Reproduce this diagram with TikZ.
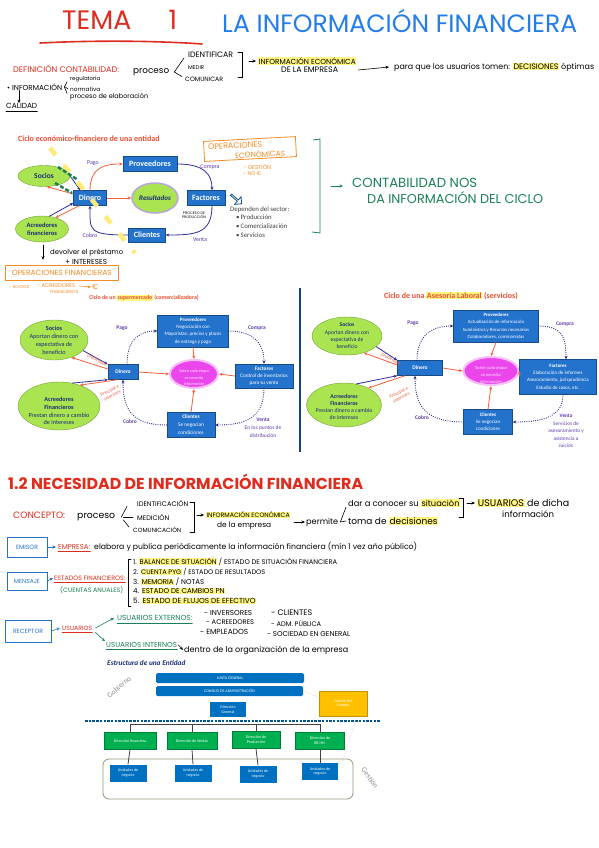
\documentclass[tikz,border=0pt]{standalone}
\usepackage{fontspec}
\setmainfont{Carlito}
\newfontfamily\hand{Poppins}
\usepackage{graphicx}
\usetikzlibrary{arrows.meta,shapes.geometric,shapes.arrows,shadows}

\definecolor{penred}{RGB}{222,45,30}
\definecolor{penblue}{RGB}{35,125,235}
\definecolor{pengreen}{RGB}{25,130,85}
\definecolor{penorange}{RGB}{245,140,35}
\definecolor{hlyellow}{RGB}{255,246,130}
\definecolor{titred}{RGB}{238,75,45}
\definecolor{boxblue}{RGB}{35,115,205}
\definecolor{ellgreen}{RGB}{170,228,80}
\definecolor{navy}{RGB}{25,45,120}
\definecolor{lblpurple}{RGB}{95,60,170}
\definecolor{arrred}{RGB}{240,95,60}
\definecolor{arrblue}{RGB}{45,45,155}
\definecolor{infomag}{RGB}{235,70,235}
\definecolor{orgblue}{RGB}{0,112,192}
\definecolor{orggreen}{RGB}{0,176,80}
\definecolor{orgyellow}{RGB}{255,192,0}
\definecolor{gestgray}{RGB}{150,150,120}

\newcommand{\hw}[2]{\resizebox{#1pt}{!}{\hand #2}}
\newcommand{\hlt}[1]{{\setlength{\fboxsep}{0.7pt}\colorbox{hlyellow}{#1}}}
\newcommand{\fsz}[2]{\fontsize{#1}{#2}\selectfont}

\tikzset{
  hnote/.style={inner sep=0pt, anchor=west},
  penline/.style={line width=0.6pt, line cap=round},
  cycbox/.style={draw=boxblue!65!black, fill=boxblue, text=white, inner sep=0pt, align=center,
    drop shadow={opacity=0.35, shadow xshift=0.8pt, shadow yshift=-0.8pt}},
  cycell/.style={ellipse, draw=ellgreen!70!black, fill=ellgreen, inner sep=0pt},
  infoell/.style={ellipse, draw=infomag!35, line width=2pt, fill=infomag, inner sep=0pt},
  celltext/.style={text=navy, align=center, inner sep=0pt},
  cyclbl/.style={text=lblpurple, inner sep=0pt, align=center},
  flowin/.style={arrblue, thick, ->},
  flowout/.style={arrred, thick, ->},
  cycdot/.style={arrblue!85!black, line width=1.2pt, line cap=round, dash pattern=on 0pt off 2.2pt, ->},
  penbox/.style={draw=boxblue, thick, text=boxblue, inner sep=0pt},
  orgbox/.style={fill=orgblue, text=white, inner sep=0pt, align=center, font=\fsz{4}{4.8}},
  orggbox/.style={fill=orggreen, draw=orggreen!70!black, text=white, inner sep=0pt, align=center, font=\fsz{4}{4.8}, minimum height=17},
  treeline/.style={black!75, thick},
  orgdot/.style={arrred!60, densely dotted, thin},
}

\begin{document}
\begin{tikzpicture}[x=1pt, y=-1pt, >={Stealth[length=3.5pt, width=3pt]}]
  \fill[white] (0,0) rectangle (599,848);
  \useasboundingbox (0,0) rectangle (599,848);

  %--- Title ---
  \node[hnote, text=penred] (tema) at (62,20) {\hw{115}{TEMA\hspace{1.4em}1}};
  \draw[penred, line width=1.6pt, line cap=round] (40,43) .. controls (100,40) and (160,41) .. (202,44);
  \node[hnote, text=penblue] (titulo) at (222,21) {\hw{355}{LA INFORMACIÓN FINANCIERA}};

  %--- Definicion contabilidad ---
  \node[hnote, text=penred] (defcont) at (13,69) {\hw{106}{DEFINICIÓN CONTABILIDAD:}};
  \node[hnote] (proc1) at (133,72) {\hw{36}{proceso}};
  \node[hnote] (ident1) at (188,55) {\hw{45}{IDENTIFICAR}};
  \node[hnote] (medir) at (188,68) {\hw{16}{MEDIR}};
  \node[hnote] (comun1) at (185,79) {\hw{38}{COMUNICAR}};
  \draw[penline] ([xshift=5]proc1.east) -- ([xshift=-4]ident1.south west);
  \draw[penline] ([xshift=5]proc1.east) -- ([xshift=-3]comun1.north west);
  \draw[penline] (238,52) -- (242,52) -- (242,77) -- (238,77);
  \node[hnote] (infoeco1) at (258,61) {\hw{98}{\hlt{INFORMACIÓN ECONÓMICA}}};
  \draw[penline, ->] ([xshift=-9]infoeco1.west) -- ([xshift=-2]infoeco1.west);
  \node[hnote] (deemp1) at (281,70) {\hw{57}{DE LA EMPRESA}};
  \node[hnote] (paraque) at (394,67) {\hw{200}{para que los usuarios tomen: \hlt{DECISIONES} óptimas}};
  \draw[penline, ->] ([xshift=20]deemp1.east) -- ([xshift=-5]paraque.west);
  \node[hnote] (info1) at (7,87) {\hw{55}{\textbullet\ INFORMACIÓN}};
  \node[hnote] (regul) at (70,79) {\hw{30}{regulatoria}};
  \node[hnote] (norma) at (70,89) {\hw{30}{normativa}};
  \node[hnote] (elab) at (70,97) {\hw{78}{proceso de elaboración}};
  \draw[penline] ([xshift=2]info1.east) -- ([xshift=-3]regul.south west);
  \draw[penline] ([xshift=3]info1.east) -- ([xshift=-2]norma.west);
  \draw[penline] ([xshift=2]info1.east) -- ([xshift=-3]elab.north west);
  \node[hnote] (calidad) at (6,106) {\hw{31}{CALIDAD}};
  \draw[penline, ->] ([xshift=12]info1.south west) -- ([xshift=13]calidad.north west);
  \draw[penline] ([yshift=-2]calidad.south west) -- ([yshift=-2]calidad.south east);

  %--- Ciclo economico-financiero ---
  \node[hnote, text=titred, font=\bfseries\fsz{8}{9}] (tciclo) at (18,139) {Ciclo económico-financiero de una entidad};
  \node[cycell, minimum width=52, minimum height=21, text=navy, font=\bfseries\fsz{7.5}{8}] (soc1) at (44,176) {Socios};
  \node[cycell, minimum width=53, minimum height=26, text=navy, font=\bfseries\fsz{6.5}{7.5}, align=center] (acr1) at (42,229) {Acreedores\\financieros};
  \node[cycbox, minimum width=54, minimum height=15, font=\bfseries\fsz{8}{9}] (prov1) at (150,164) {Proveedores};
  \node[cycbox, minimum width=33, minimum height=15, font=\bfseries\fsz{8}{9}] (din1) at (90,198) {Dinero};
  \node[cycell, draw=lblpurple!45, line width=1.5pt, minimum width=46, minimum height=30, inner sep=-2pt, text=navy, font=\bfseries\itshape\fsz{7}{8}] (res1) at (155,198) {Resultados};
  \node[cycbox, minimum width=38, minimum height=15, font=\bfseries\fsz{8}{9}] (fac1) at (206,198) {Factores};
  \node[cycbox, minimum width=37, minimum height=14, font=\bfseries\fsz{8}{9}] (cli1) at (147,235) {Clientes};
  \node[cyclbl, font=\fsz{6}{7}] (pago1) at (93,163) {Pago};
  \node[cyclbl, font=\fsz{6}{7}] (compra1) at (210,167) {Compra};
  \node[cyclbl, font=\fsz{6}{7}] (cobro1) at (90,235) {Cobro};
  \node[cyclbl, font=\fsz{6}{7}] (venta1) at (200,240) {Venta};
  \draw[flowout] (din1.north) .. controls +(0,-25) and +(-15,0) .. (prov1.west);
  \draw[flowin] (prov1.east) .. controls +(28,0) and +(0,-15) .. ([xshift=6]fac1.north);
  \draw[flowin] ([xshift=6]fac1.south) .. controls +(0,28) and +(30,0) .. (cli1.east);
  \draw[flowin] (cli1.west) .. controls +(-40,0) and +(0,25) .. (din1.south);
  \draw[flowout] (din1.east) -- (res1.west);
  \draw[flowin] (soc1.15) -- ([xshift=7]din1.north west);
  \draw[flowout] ([yshift=4]din1.west) -- (soc1.-75);
  \draw[flowin] (acr1.60) -- ([yshift=-5]din1.west);
  \draw[flowout] ([xshift=6]din1.south west) -- (acr1.40);
  \draw[hlyellow!90!orange, line width=4.5pt, dash pattern=on 9pt off 13pt] (50,148) -- (135,253);
  \draw[pengreen, line width=2.5pt, dash pattern=on 4pt off 2pt] (58,167) -- (78,180);
  \draw[pengreen, line width=2.5pt, dash pattern=on 4pt off 2pt] (55,183) -- (72,193);
  \node[inner sep=0pt] (procprod) at (194,215) {\hw{24}{\shortstack{PROCESO DE\\PRODUCCIÓN}}};
  \node[single arrow, draw=boxblue!70!black, fill=white, thick, rotate=-40, minimum height=14, minimum width=10, inner sep=0pt, single arrow head extend=2pt] (hollow) at (236,199) {};
  \node[hnote, text=black!75, font=\fsz{6.8}{8}] (dep) at (230,210) {Dependen del sector:};
  \node[inner sep=0pt, anchor=north west, align=left, text=black!75, font=\fsz{6.8}{9}] (sect) at (236,215) {\textbullet\,Producción\\\textbullet\,Comercialización\\\textbullet\,Servicios};

  \node[draw=penorange, thick, rotate=3, minimum width=92, minimum height=20] (opeco) at (250,149) {};
  \node[hnote, text=penorange, rotate=3] (opeco1) at (208,147) {\hw{54}{OPERACIONES}};
  \node[hnote, text=penorange, rotate=3] (opeco2) at (235,155) {\hw{50}{ECONÓMICAS}};
  \node[hnote, text=penorange] (gestion) at (243,167) {\hw{28}{- GESTIÓN}};
  \node[hnote, text=penorange] (noeur) at (243,174) {\hw{18}{- NO €}};

  \draw[pengreen, thick] (313,140) -- (320,139) -- (320,233) -- (312,232);
  \node[hnote, text=pengreen] (contab) at (352,183) {\hw{125}{CONTABILIDAD NOS}};
  \node[hnote, text=pengreen] (daciclo) at (367,198) {\hw{176}{DA INFORMACIÓN DEL CICLO}};
  \draw[pengreen, thick, ->] ([xshift=-21,yshift=-3]contab.west) -- ([xshift=-9,yshift=-3]contab.west);

  \node[hnote] (devol) at (50,253) {\hw{73}{devolver el préstamo}};
  \node[hnote] (inter1) at (65,262) {\hw{42}{+ INTERESES}};
  \draw[penline, ->] ([xshift=-7,yshift=4]devol.north west) -- ([xshift=-7,yshift=-3]devol.south west);

  \node[draw=penorange, thick, anchor=west, minimum width=113, minimum height=15, inner sep=0pt] (opfin) at (5,273) {\hw{100}{\color{penorange}OPERACIONES FINANCIERAS}};
  \node[hnote, text=penorange] (fsocios) at (9,287) {\hw{20}{- SOCIOS}};
  \node[hnote, text=penorange] (facree) at (37,286) {\hw{38}{- ACREEDORES}};
  \node[hnote, text=penorange] (ffinan) at (50,292) {\hw{28}{FINANCIEROS}};
  \node[hnote, text=penorange] (feur) at (92,287) {\hw{6}{€}};
  \draw[penorange, penline, ->] ([xshift=4]facree.east) -- ([xshift=-1]feur.west);

  %--- Ciclo supermercado ---
  \node[inner sep=0pt, text=titred, font=\bfseries\fsz{5.8}{7}] (tsuper) at (144,298) {Ciclo de un \hlt{supermercado} (comercializadora)};
  \node[cycell, minimum width=68, minimum height=40] (soc2) at (54,340) {};
  \node[celltext, font=\fsz{6.2}{8}] (soc2t) at (soc2) {\textbf{Socios}\\Aportan dinero con\\expectativa de\\beneficio};
  \node[cycell, minimum width=82, minimum height=48] (acr2) at (59,406) {};
  \node[celltext, font=\fsz{6.2}{7.7}] (acr2t) at (59,411) {\textbf{Acreedores}\\\textbf{Financieros}\\Prestan dinero a cambio\\de intereses};
  \node[cycbox, minimum width=30, minimum height=15, font=\bfseries\fsz{5.5}{6}] (din2) at (123,372) {Dinero};
  \node[cycbox, minimum width=71, minimum height=32, font=\fsz{5}{7.3}] (prov2) at (193,331) {\textbf{Proveedores}\\Negociación con\\Mayoristas: precios y plazos\\de entrega y pago};
  \node[infoell, minimum width=48, minimum height=28] (info2) at (194,374) {};
  \node[inner sep=0pt, align=center, text=white!85!infomag, font=\itshape\fsz{4.2}{6.3}] (info2t) at (194,378) {Sobre cada etapa\\se necesita\\información};
  \node[cycbox, minimum width=58, minimum height=24, font=\fsz{5.3}{7}] (fac2) at (264,376) {\textbf{Factores}\\Control de inventarios\\para su venta};
  \node[cycbox, minimum width=48, minimum height=25, font=\fsz{5.3}{8}] (cli2) at (191,425) {\textbf{Clientes}\\Se negocian\\condiciones};
  \node[cyclbl, font=\bfseries\fsz{5.5}{7}] (pago2) at (122,328) {Pago};
  \node[cyclbl, font=\bfseries\fsz{5.5}{7}] (compra2) at (257,328) {Compra};
  \node[cyclbl, font=\bfseries\fsz{5.5}{7}] (cobro2) at (130,422) {Cobro};
  \node[cyclbl, font=\fsz{5.5}{8}] (venta2) at (263,428) {\textbf{Venta}\\En los puntos de\\distribución};
  \draw[cycdot] ([xshift=4]din2.north) .. controls +(0,-30) and +(-12,0) .. (prov2.west);
  \draw[cycdot] (prov2.east) .. controls +(25,0) and +(0,-20) .. (fac2.north);
  \draw[cycdot] (fac2.south) .. controls +(0,30) and +(30,0) .. (cli2.east);
  \draw[cycdot] (cli2.west) .. controls +(-35,0) and +(0,30) .. (din2.south);
  \draw[flowout] (din2.east) -- (info2.west);
  \draw[flowout] (fac2.west) -- (info2.east);
  \draw[flowout] (prov2.south) -- (info2.north);
  \draw[flowout] (cli2.north) -- (info2.south);
  \draw[flowin] (soc2.-20) -- (din2.north west);
  \draw[flowout] ([yshift=3]din2.west) -- (soc2.-45);
  \draw[flowin] (acr2.60) -- (din2.south west);
  \draw[flowout] ([xshift=-5]din2.south) -- (acr2.45);
  \node[inner sep=0pt, text=arrred, rotate=-30, font=\fsz{4.8}{5.5}] (divid2) at (97,360) {Dividendos};
  \node[inner sep=0pt, text=arrred, rotate=28, align=center, font=\fsz{4.8}{5.8}] (princ2) at (111,393) {Principal e\\intereses};

  \draw[boxblue!60!black, line width=1.5pt] (300,288) -- (300,452);

  %--- Ciclo asesoria laboral ---
  \node[inner sep=0pt, text=titred, font=\bfseries\fsz{8}{9}] (tases) at (451,296) {Ciclo de una \hlt{Asesoría Laboral} (servicios)};
  \node[cycell, minimum width=70, minimum height=38] (soc3) at (347,336) {};
  \node[celltext, font=\fsz{5.6}{7.3}] (soc3t) at (soc3) {\textbf{Socios}\\Aportan dinero con\\expectativa de\\beneficio};
  \node[cycell, minimum width=75, minimum height=44] (acr3) at (344,405) {};
  \node[celltext, font=\fsz{5.8}{7}] (acr3t) at (344,407) {\textbf{Acreedores}\\\textbf{Financieros}\\Prestan dinero a cambio\\de intereses};
  \node[cycbox, minimum width=45, minimum height=15, font=\bfseries\fsz{5.5}{6}] (din3) at (420,368) {Dinero};
  \node[cycbox, minimum width=85, minimum height=32, font=\fsz{4.8}{7.5}] (prov3) at (496,326) {\textbf{Proveedores}\\Actualización de información\\Suministros y Recursos necesarios\\Colaboradores, comisionistas};
  \node[infoell, minimum width=55, minimum height=28] (info3) at (491,371) {};
  \node[inner sep=0pt, align=center, text=white!85!infomag, font=\itshape\fsz{4.5}{7}] (info3t) at (491,375) {Sobre cada etapa\\se necesita\\información};
  \node[cycbox, minimum width=77, minimum height=35, font=\fsz{5}{7.3}] (fac3) at (558,377) {\textbf{Factores}\\Elaboración de informes\\Asesoramiento, jurisprudencia\\Estudio de casos, etc.};
  \node[cycbox, minimum width=49, minimum height=25, font=\fsz{5}{7}] (cli3) at (488,422) {\textbf{Clientes}\\Se negocian\\condiciones};
  \node[cyclbl, font=\bfseries\fsz{5.5}{7}] (pago3) at (413,323) {Pago};
  \node[cyclbl, font=\bfseries\fsz{5.5}{7}] (compra3) at (565,324) {Compra};
  \node[cyclbl, font=\bfseries\fsz{5.5}{7}] (cobro3) at (422,418) {Cobro};
  \node[cyclbl, font=\fsz{5.3}{7.6}] (venta3) at (566,431) {\textbf{Venta}\\Servicios de\\asesoramiento y\\asistencia a\\Juicios};
  \draw[cycdot] ([xshift=-3]din3.north) .. controls +(0,-30) and +(-15,0) .. (prov3.west);
  \draw[cycdot] (prov3.east) .. controls +(25,0) and +(0,-20) .. ([xshift=8]fac3.north);
  \draw[cycdot] ([xshift=5]fac3.south) .. controls +(0,22) and +(30,0) .. (cli3.east);
  \draw[cycdot] (cli3.west) .. controls +(-40,0) and +(0,28) .. ([xshift=-5]din3.south);
  \draw[flowout] (din3.east) -- (info3.west);
  \draw[flowout] (fac3.west) -- (info3.east);
  \draw[flowout] (prov3.south) -- (info3.north);
  \draw[flowout] (cli3.north) -- (info3.south);
  \draw[flowin] (soc3.-20) -- (din3.north west);
  \draw[flowout] ([yshift=3]din3.west) -- (soc3.-45);
  \draw[flowin] (acr3.60) -- (din3.south west);
  \draw[flowout] ([xshift=-15]din3.south) -- (acr3.35);
  \node[inner sep=0pt, text=arrred, rotate=-30, font=\fsz{4.8}{5.5}] (divid3) at (391,359) {Dividendos};
  \node[inner sep=0pt, text=arrred, rotate=28, align=center, font=\fsz{4.8}{5.8}] (princ3) at (400,395) {Principal e\\intereses};

  %--- 1.2 Necesidad de informacion financiera ---
  \node[hnote, text=penred] (sec12) at (8,482) {\hw{355}{\bfseries 1.2 NECESIDAD DE INFORMACIÓN FINANCIERA}};
  \node[hnote, text=penred] (concepto) at (13,515) {\hw{52}{CONCEPTO:}};
  \node[hnote] (proc2) at (77,517) {\hw{38}{proceso}};
  \node[hnote] (ident2) at (137,503) {\hw{51}{IDENTIFICACIÓN}};
  \node[hnote] (medic) at (137,517) {\hw{32}{MEDICIÓN}};
  \node[hnote] (comun2) at (133,530) {\hw{48}{COMUNICACIÓN}};
  \draw[penline] ([xshift=6]proc2.east) -- ([xshift=-10]ident2.south west);
  \draw[penline] ([xshift=8]proc2.east) -- ([xshift=-4]medic.west);
  \draw[penline] ([xshift=8,yshift=-3]proc2.east) -- ([xshift=-4]comun2.north west);
  \draw[penline] (190,502) -- (194,502) -- (194,532) -- (190,532);
  \node[hnote] (infoeco2) at (206,515) {\hw{84}{\hlt{INFORMACIÓN ECONÓMICA}}};
  \draw[penline, ->] ([xshift=-9]infoeco2.west) -- ([xshift=-2]infoeco2.west);
  \node[hnote] (deemp2) at (217,526) {\hw{54}{de la empresa}};
  \node[hnote] (permite) at (306,522) {\hw{32}{permite}};
  \draw[penline, ->] ([xshift=-12]permite.west) -- ([xshift=-1]permite.west);
  \node[hnote] (darcon) at (348,503) {\hw{112}{dar a conocer su \hlt{situación}}};
  \node[hnote] (tomadec) at (348,521) {\hw{90}{toma de \hlt{decisiones}}};
  \draw[penline] ([xshift=2]permite.east) -- ([xshift=-2]darcon.south west);
  \draw[penline] ([xshift=2]permite.east) -- ([xshift=-2]tomadec.west);
  \draw[penline] (459,498) -- (463,498) -- (463,517) -- (459,517);
  \node[hnote] (usudicha) at (477,503) {\hw{92}{\hlt{USUARIOS} de dicha}};
  \node[hnote] (usuinfo) at (502,514) {\hw{52}{información}};
  \draw[penline, ->] ([xshift=-10]usudicha.west) -- ([xshift=-2]usudicha.west);

  %--- Emisor ---
  \node[penbox, minimum width=40, minimum height=20] (emisor) at (27,547) {\hw{22}{EMISOR}};
  \node[hnote, text=penred] (empresa) at (58,547) {\hw{32}{EMPRESA:}};
  \draw[penred, penline] ([yshift=-2]empresa.south west) -- ([yshift=-2]empresa.south east);
  \draw[boxblue, penline, ->] (emisor.east) -- ([xshift=-2]empresa.west);
  \node[hnote] (elabora) at (94,547) {\hw{323}{elabora y publica periódicamente la información financiera (mín 1 vez año público)}};

  %--- Mensaje ---
  \node[penbox, minimum width=40, minimum height=18] (mensaje) at (27,581) {\hw{26}{MENSAJE}};
  \node[hnote, text=penred] (estfin) at (54,578) {\hw{71}{ESTADOS FINANCIEROS:}};
  \draw[penred, penline] ([yshift=-2]estfin.south west) -- ([yshift=-2]estfin.south east);
  \draw[boxblue, penline, ->] (mensaje.east) -- ([xshift=-1]estfin.west);
  \node[hnote, text=pengreen] (cuentas) at (60,590) {\hw{63}{(CUENTAS ANUALES)}};
  \draw[penline] (131,559) -- (128,559) -- (128,606) -- (131,606);
  \node[hnote] (ef1) at (133,562) {\hw{204}{1. \hlt{BALANCE DE SITUACIÓN} / ESTADO DE SITUACIÓN FINANCIERA}};
  \node[hnote] (ef2) at (133,572) {\hw{132}{2. \hlt{CUENTA PYG} / ESTADO DE RESULTADOS}};
  \node[hnote] (ef3) at (133,582) {\hw{71}{3. \hlt{MEMORIA} / NOTAS}};
  \node[hnote] (ef4) at (133,591) {\hw{92}{4. \hlt{ESTADO DE CAMBIOS PN}}};
  \node[hnote] (ef5) at (133,601) {\hw{123}{5. \hlt{ESTADO DE FLUJOS DE EFECTIVO}}};

  %--- Receptor ---
  \node[penbox, minimum width=46, minimum height=22] (receptor) at (28,631) {\hw{30}{RECEPTOR}};
  \node[hnote, text=penred] (usuarios) at (62,628) {\hw{30}{USUARIOS}};
  \draw[penred, penline] ([yshift=-2]usuarios.south west) -- ([yshift=-2]usuarios.south east);
  \draw[boxblue, penline, ->] (receptor.east) -- ([xshift=-2]usuarios.west);
  \node[hnote, text=pengreen] (externos) at (117,618) {\hw{75}{USUARIOS EXTERNOS:}};
  \draw[pengreen, penline] ([yshift=-2]externos.south west) -- ([yshift=-2]externos.south east);
  \node[hnote, text=pengreen] (internos) at (106,645) {\hw{71}{USUARIOS INTERNOS}};
  \draw[pengreen, penline] ([yshift=-2]internos.south west) -- ([yshift=-2]internos.south east);
  \draw[pengreen, penline, ->] ([xshift=3]usuarios.east) -- ([xshift=-3]externos.west);
  \draw[pengreen, penline, ->] ([xshift=3,yshift=-2]usuarios.south east) -- ([xshift=-1,yshift=1]internos.north west);
  \node[hnote] (dentro) at (184,650) {\hw{164}{dentro de la organización de la empresa}};
  \draw[penline, ->] ([xshift=1]internos.east) -- ([xshift=-1]dentro.west);
  \node[hnote] (inversores) at (204,613) {\hw{48}{- INVERSORES}};
  \node[hnote] (acreed) at (206,622) {\hw{48}{- ACREEDORES}};
  \node[hnote] (empleados) at (200,632) {\hw{48}{- EMPLEADOS}};
  \node[hnote] (clientes) at (271,613) {\hw{41}{- CLIENTES}};
  \node[hnote] (admpub) at (271,623) {\hw{50}{- ADM. PÚBLICA}};
  \node[hnote] (sociedad) at (267,634) {\hw{83}{- SOCIEDAD EN GENERAL}};

  %--- Estructura de una entidad ---
  \node[hnote, text=navy, font=\bfseries\itshape\fsz{7.3}{8}] (testr) at (107,663) {Estructura de una Entidad};
  \node[inner sep=0pt, text=black!45, rotate=40, font=\fsz{7.5}{8}] (gobierno) at (119,687) {Gobierno};
  \node[orgbox, minimum width=148, minimum height=10, rounded corners=1.5] (junta) at (230,678) {JUNTA GENERAL};
  \node[orgbox, minimum width=147, minimum height=10, rounded corners=1.5] (consejo) at (229.5,691) {CONSEJO DE ADMINISTRACIÓN};
  \node[orgbox, minimum width=36, minimum height=15] (dirgen) at (228,709.5) {Dirección\\General};
  \node[orgbox, fill=orgyellow, draw=orgyellow!75!black, minimum width=48, minimum height=25] (comite) at (343,703.5) {Comité del\\Consejo};
  \draw[orgdot] (dirgen.north) -- (consejo.south);
  \draw[orgdot] (consejo.east) -- ([yshift=6]comite.west);
  \draw[orgblue!75!black, line width=1.3pt, dash pattern=on 2.5pt off 1.2pt] (85,721) -- (380,721);

  \node[orggbox, minimum width=52] (dirfin) at (130,741) {Dirección financiera};
  \node[orggbox, minimum width=50] (dirven) at (192,741) {Dirección de Ventas};
  \node[orggbox, minimum width=48] (dirprod) at (256,740) {Dirección de\\Producción};
  \node[orggbox, minimum width=49] (dirrh) at (320,741) {Dirección de\\RR.HH.};
  \coordinate (treetop) at (0,724);
  \draw[treeline] (dirfin.north) |- (treetop -| dirrh.north) -- (dirrh.north);
  \draw[treeline] (dirven.north) -- (dirven.north |- treetop);
  \draw[treeline] (dirprod.north) -- (dirprod.north |- treetop);

  \draw[gestgray, thick, rounded corners=6] (103,759) rectangle (353,799);
  \node[orgbox, minimum width=37, minimum height=17] (uni1) at (128,773) {Unidades de\\negocio};
  \node[orgbox, minimum width=37, minimum height=17] (uni2) at (193,773) {Unidades de\\negocio};
  \node[orgbox, minimum width=37, minimum height=17] (uni3) at (258,774) {Unidades de\\negocio};
  \node[orgbox, minimum width=36, minimum height=17] (uni4) at (320,771.5) {Unidades de\\negocio};
  \draw[treeline] (dirfin.south) -- (uni1.north);
  \draw[treeline] (dirven.south) -- (uni2.north);
  \draw[treeline] (dirprod.south) -- (uni3.north);
  \draw[treeline] (dirrh.south) -- (uni4.north);
  \draw[orgdot] ([xshift=14]comite.south) -- ([xshift=4]uni4.north east);
  \node[inner sep=0pt, text=black!45, rotate=-55, font=\fsz{7.5}{8}] (gestlbl) at (370,778) {Gestión};
\end{tikzpicture}
\end{document}
